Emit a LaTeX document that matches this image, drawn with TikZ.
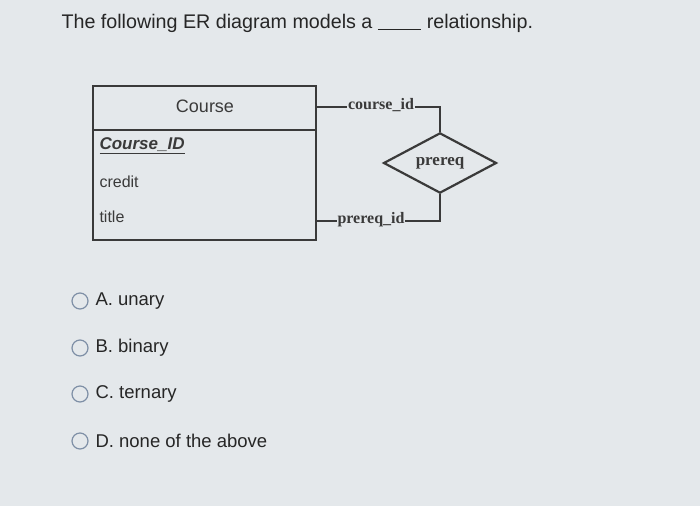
\documentclass[tikz,border=0pt]{standalone}
\usepackage{fontspec}
\setmainfont{Liberation Sans}
\newfontfamily\serifb{Liberation Serif}
\usetikzlibrary{shapes.geometric}
\definecolor{bg}{HTML}{E4E8EB}
\definecolor{ink}{HTML}{3A3A3A}
\definecolor{radio}{HTML}{7E8FA6}
\tikzset{x=1pt,y=-1pt,
  lab/.style={fill=bg,inner sep=1pt,font=\serifb\bfseries\fontsize{16}{16}\selectfont,text=ink},
  attr/.style={anchor=west,font=\fontsize{16}{16}\selectfont,text=ink},
  opt/.style={anchor=west,font=\fontsize{18.5}{18.5}\selectfont,text=black!85},
  rb/.style={circle,draw=radio,line width=1.2pt,minimum size=16pt,inner sep=0pt},
  edge/.style={draw=ink,line width=2.2pt}}
\begin{document}
\begin{tikzpicture}
\fill[bg] (0,0) rectangle (700,506);
\useasboundingbox (0,0) rectangle (700,506);
\node[anchor=west,font=\fontsize{19.7}{19.7}\selectfont,text=black!85] (q) at (58,23) {The following ER diagram models a \underline{\hspace{2.2em}} relationship.};
\draw[edge] (93,86) rectangle (316,240);
\draw[edge] (93,130) -- (316,130);
\node[font=\fontsize{18}{18}\selectfont,text=ink] (c) at (205,106) {Course};
\node[attr,font=\itshape\bfseries\fontsize{17}{17}\selectfont] (k) at (96,146) {\underline{Course\_ID}};
\node[attr] (cr) at (96,182) {credit};
\node[attr] (ti) at (96,217) {title};
\node[diamond,draw=ink,line width=2.2pt,minimum width=113pt,minimum height=53pt,inner sep=0pt,
  font=\serifb\bfseries\fontsize{17}{17}\selectfont,text=ink] (d) at (440,163) {prereq};
\coordinate (a1) at (316,107);
\coordinate (a2) at (316,221);
\draw[edge] (a1) -- (a1 -| d.north) -- (d.north);
\draw[edge] (a2) -- (a2 -| d.south) -- (d.south);
\node[lab] (l1) at (381,105) {course\_id};
\node[lab] (l2) at (371,220) {prereq\_id};
\foreach \y/\t [count=\i] in {301/A. unary,348/B. binary,394/C. ternary,441/D. none of the above}{
  \node[rb] (r\i) at (80,\y) {};
  \node[opt] (o\i) at (92,\y) {\t};
}
\end{tikzpicture}
\end{document}
